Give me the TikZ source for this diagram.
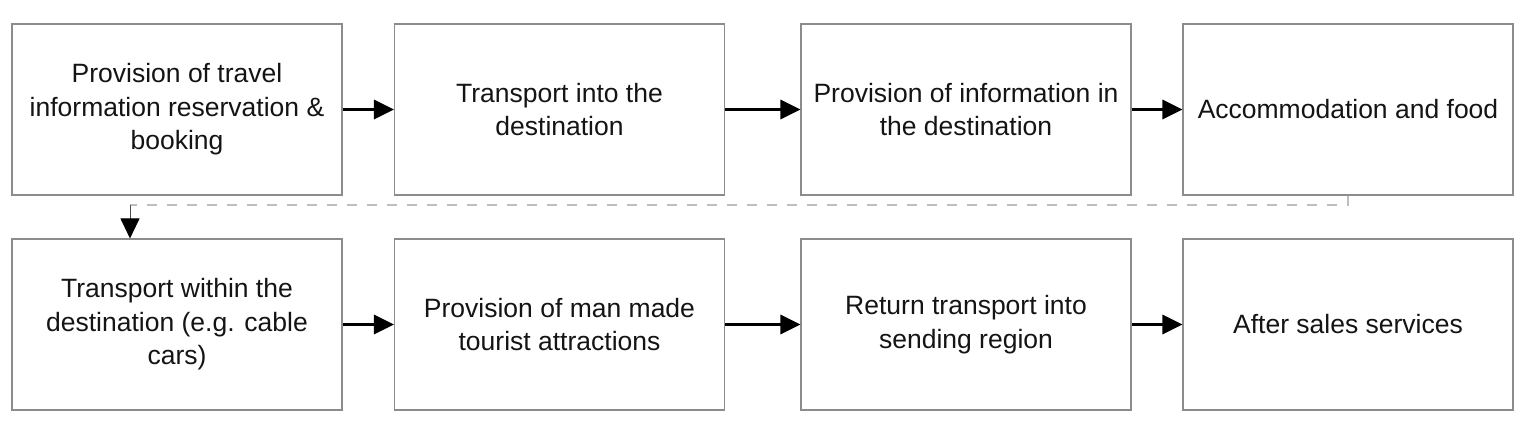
\documentclass[tikz,border=0pt]{standalone}
\usepackage{fontspec}
\setmainfont{Liberation Sans}
\usetikzlibrary{arrows.meta,calc}
\definecolor{boxline}{RGB}{140,140,140}
\definecolor{dashline}{RGB}{190,190,190}
\definecolor{txt}{RGB}{20,20,20}
\tikzset{
  stagebox/.style={draw=boxline, line width=1.1pt, minimum width=330pt, minimum height=171pt,
    inner sep=0pt, align=center, text=txt, font=\fontsize{26.5pt}{33.5pt}\selectfont},
  flowarrow/.style={line width=3pt, -{Triangle[length=20pt,width=19pt]}},
}
\begin{document}
\begin{tikzpicture}[x=1pt,y=-1pt]
\useasboundingbox (0,0) rectangle (1540,430);
\node[stagebox] (b1) at (177,109.5) {Provision of travel\\information reservation \&\\booking};
\node[stagebox] (b2) at (559.5,109.5) {Transport into the\\destination};
\node[stagebox] (b3) at (966,109.5) {Provision of information in\\the destination};
\node[stagebox] (b4) at (1348,109.5) {Accommodation and food};
\node[stagebox] (b5) at (177,324.5) {Transport within the\\destination (e.g. cable\\cars)};
\node[stagebox] (b6) at (559.5,324.5) {Provision of man made\\tourist attractions};
\node[stagebox] (b7) at (966,324.5) {Return transport into\\sending region};
\node[stagebox] (b8) at (1348,324.5) {After sales services};
\draw[flowarrow] (b1) -- (b2);
\draw[flowarrow] (b2) -- (b3);
\draw[flowarrow] (b3) -- (b4);
\draw[flowarrow] (b5) -- (b6);
\draw[flowarrow] (b6) -- (b7);
\draw[flowarrow] (b7) -- (b8);
\coordinate (turn) at (130,205);
\draw[dashline, line width=1.5pt, dash pattern=on 10pt off 10pt] (b4.south) |- (turn);
\draw[black!70, line width=1pt, -{Triangle[length=20pt,width=19pt,color=black]}] (turn) -- (turn |- b5.north);
\end{tikzpicture}
\end{document}
